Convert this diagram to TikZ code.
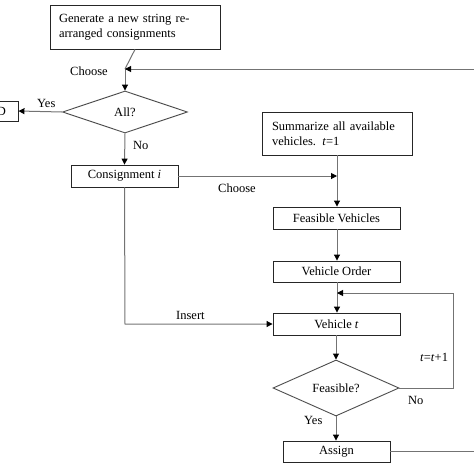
\documentclass[tikz,border=0pt]{standalone}
\usepackage{fontspec}
\setmainfont{Liberation Serif}
\usetikzlibrary{shapes.geometric,arrows.meta}
\begin{document}
\begin{tikzpicture}[x=1pt,y=-1pt,
  font=\fontsize{12.5}{15.5}\selectfont,
  box/.style={draw=black!85,line width=0.9pt,rectangle,inner sep=0pt},
  dia/.style={draw=black!70,line width=0.9pt,diamond,inner sep=0pt},
  conn/.style={draw=black!55,line width=1pt},
  arr/.style={conn,-{Triangle[length=6pt,width=6pt,fill=black,color=black]}},
  lbl/.style={inner sep=0pt,anchor=base west}]
\useasboundingbox (0,0) rectangle (474,474);
\clip (0,0) rectangle (474,474);
% nodes
\node[box,minimum width=170pt,minimum height=44pt,text width=152pt,align=left] (gen) at (135,27)
  {Generate a new string re-\\arranged consignments};
\node[dia,minimum width=125pt,minimum height=42pt] (all) at (125,112) {All?};
\node[box,minimum width=50pt,minimum height=20pt] (end) at (-7,111) {END};
\node[box,minimum width=107pt,minimum height=22pt] (cons) at (124.5,176) {Consignment \textit{i}};
\node[box,minimum width=150pt,minimum height=43pt,text width=130pt,align=left] (sum) at (337,133.5)
  {Summarize all available\\vehicles. \textit{t}=1};
\node[box,minimum width=127pt,minimum height=22pt] (feas) at (336.5,218) {Feasible Vehicles};
\node[box,minimum width=127pt,minimum height=21pt] (order) at (336.5,271.5) {Vehicle Order};
\node[box,minimum width=127pt,minimum height=22pt] (veh) at (336.5,324) {Vehicle \textit{t}};
\node[dia,minimum width=126pt,minimum height=42pt] (fq) at (336,388) {Feasible?};
\node[box,minimum width=107pt,minimum height=21pt] (assign) at (336.5,451.5) {Assign};
% helper coordinates
\coordinate (c1) at (125,69);
\coordinate (c2) at (337,176);
\coordinate (c3) at (125,324);
\coordinate (c4) at (337,293);
\coordinate (r1) at (453,388);
\coordinate (r2) at (453,293);
\coordinate (e1) at (480,451.5);
\coordinate (e2) at (480,69);
% connectors
\draw[conn] (gen.south) -- (c1);
\draw[arr] (c1) -- (all.north);
\draw[arr] (e1 |- assign.east) -- (e2) -- (c1);
\draw[arr] (all.west) -- (end.east);
\draw[arr] (all.south) -- (cons.north);
\draw[arr] (cons.east |- c2) -- (c2);
\draw[arr] (sum.south -| c2) -- (feas.north -| c2);
\draw[arr] (feas.south -| c2) -- (order.north -| c2);
\draw[arr] (order.south -| c2) -- (veh.north -| c2);
\draw[arr] (cons.south) -- (c3) -- (veh.west);
\draw[arr] (veh.south -| fq.north) -- (fq.north);
\draw[arr] (fq.east) -- (r1) -- (r2) -- (c4);
\draw[arr] (fq.south) -- (assign.north -| fq.south);
\draw[conn] (assign.east) -- (e1);
% labels
\node[lbl] (tchoose1) at (70,75) {Choose};
\node[lbl] (tyes1) at (37,107) {Yes};
\node[lbl] (tno1) at (133,149) {No};
\node[lbl] (tchoose2) at (218,192) {Choose};
\node[lbl] (tinsert) at (176,319) {Insert};
\node[lbl] (tinc) at (420,361) {\textit{t}=\textit{t}+1};
\node[lbl] (tno2) at (408,404) {No};
\node[lbl] (tyes2) at (304,424) {Yes};
\end{tikzpicture}
\end{document}
